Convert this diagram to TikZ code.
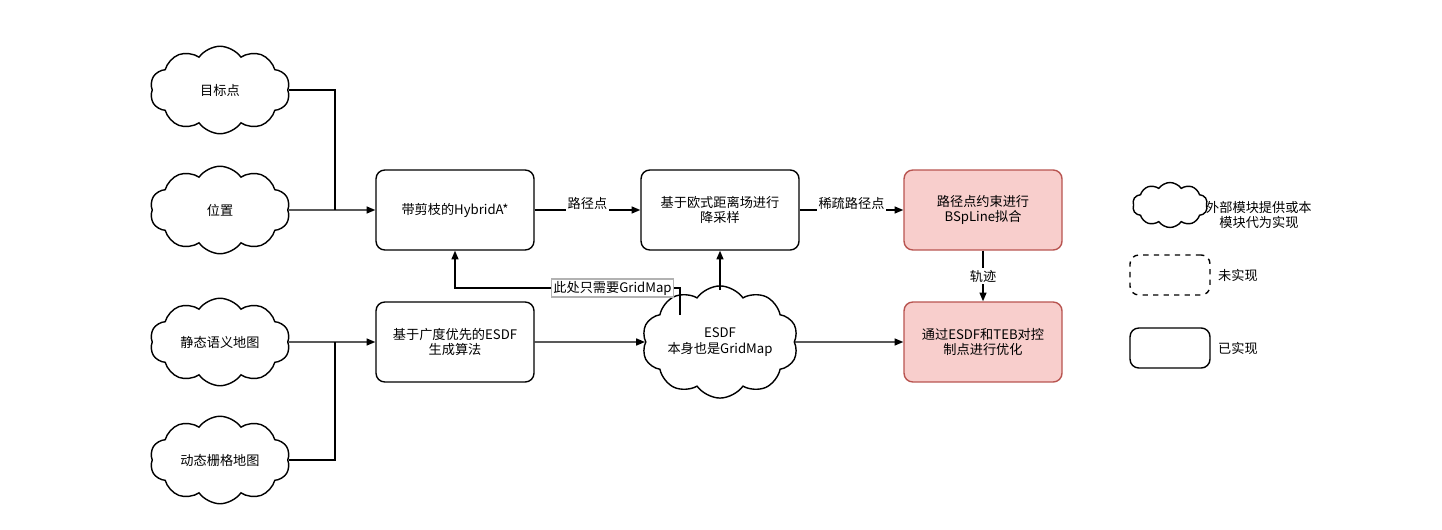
\documentclass[tikz,border=0pt]{standalone}
\usepackage{fontspec}
\setmainfont{Noto Sans CJK SC}
\usetikzlibrary{shapes.symbols,arrows.meta}
\definecolor{redfill}{HTML}{F8CECC}
\definecolor{reddraw}{HTML}{B85450}
\tikzset{
  ext/.style={cloud,cloud puffs=10,cloud puff arc=110,aspect=1.6,draw=black,thick,minimum width=2.8cm,minimum height=1.75cm,inner sep=0pt,align=center,font=\fontsize{7.5}{9}\selectfont},
  done/.style={rectangle,rounded corners=5pt,draw=black,thick,minimum width=3.16cm,minimum height=1.6cm,align=center,font=\fontsize{7.5}{9}\selectfont},
  todo/.style={done,fill=redfill,draw=reddraw},
  arr/.style={-{Triangle[length=5pt,width=4pt]},thick},
  lbl/.style={font=\fontsize{7.5}{9}\selectfont,fill=white,inner sep=1pt}
}
\begin{document}
\begin{tikzpicture}[x=0.02cm,y=-0.02cm]
\useasboundingbox (0,0) rectangle (1442,530);

%external inputs
\node[ext](goal) at (220,90){目标点};
\node[ext](pose) at (220,210){位置};
\node[ext](smap) at (220,342){静态语义地图};
\node[ext](dmap) at (220,460){动态栅格地图};

%modules
\node[done](hybrid) at (455,210){带剪枝的HybridA*};
\node[done](sample) at (720,210){基于欧式距离场进行\\降采样};
\node[todo](fit) at (983,210){路径点约束进行\\BSpLine拟合};
\node[done](esdfgen) at (455,342){基于广度优先的ESDF\\生成算法};
\node[ext,minimum width=2.95cm,minimum height=1.8cm](esdf) at (720,342){ESDF\\本身也是GridMap};
\node[todo](opt) at (983,342){通过ESDF和TEB对控\\制点进行优化};

%legend
\node[ext,minimum width=1.5cm,minimum height=0.9cm](legext) at (1170,205){};
\node[font=\fontsize{7.5}{9}\selectfont,align=center,anchor=west](legexttxt) at (1200,215){外部模块提供或本\\模块代为实现};
\node[done,dashed,minimum width=1.6cm,minimum height=0.8cm](legtodo) at (1170,275){};
\node[font=\fontsize{7.5}{9}\selectfont,anchor=west](legtodotxt) at (1212,275){未实现};
\node[done,minimum width=1.6cm,minimum height=0.8cm](legdone) at (1170,348){};
\node[font=\fontsize{7.5}{9}\selectfont,anchor=west](legdonetxt) at (1212,348){已实现};

%connectors
\coordinate (jtop) at (335,210);
\coordinate (jbot) at (335,342);
\draw[thick](goal.east) -| (jtop);
\draw[arr](pose.east) -- (hybrid.west);
\draw[thick](dmap.east) -| (jbot);
\draw[arr](smap.east) -- (esdfgen.west);
\draw[arr](hybrid.east) -- node[lbl,above=-1pt]{路径点} (sample.west);
\draw[arr](sample.east) -- node[lbl,above=-1pt]{稀疏路径点} (fit.west);
\draw[arr](fit.south) -- node[lbl]{轨迹} (opt.north);
\draw[arr](esdfgen.east) -- (esdf.west);
\draw[arr](esdf.east) -- (opt.west);
\coordinate (esdftop) at (720,290);
\draw[arr](esdftop) -- (sample.south);
\coordinate (esdfleft) at (680,315);
\draw[arr](esdfleft) |- node[lbl,draw=gray!60,pos=0.65]{此处只需要GridMap} (455,288) -- (hybrid.south);
\end{tikzpicture}
\end{document}
